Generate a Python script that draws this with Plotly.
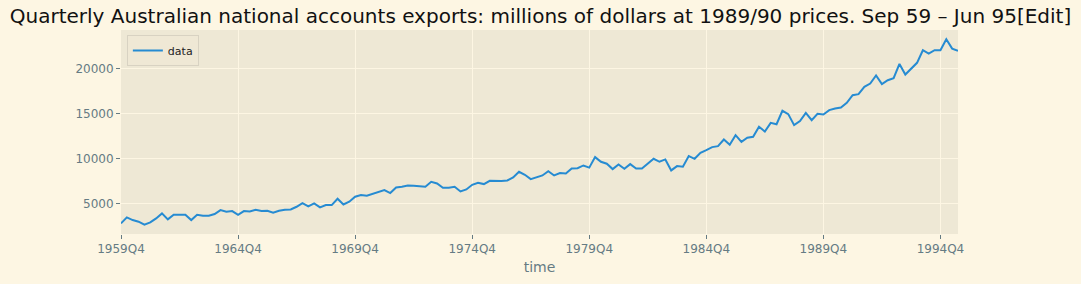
import plotly.graph_objects as go

# Quarterly exports (millions of dollars at 1989/90 prices), Sep 59 - Jun 95
values = [
    2780, 3446, 3150, 2965, 2632, 2890, 3335, 3890, 3224, 3742,
    3742, 3742, 3150, 3742, 3631, 3631, 3816, 4260, 4075, 4150,
    3742, 4150, 4110, 4300, 4150, 4190, 3964, 4190, 4300, 4330,
    4630, 5040, 4670, 5000, 4560, 4815, 4815, 5520, 4880, 5185,
    5740, 5925, 5850, 6070, 6295, 6480, 6150, 6776, 6850, 7000,
    6960, 6924, 6850, 7405, 7220, 6740, 6740, 6850, 6330, 6550,
    7070, 7290, 7150, 7515, 7480, 7480, 7550, 7890, 8515, 8180,
    7700, 7890, 8110, 8590, 8110, 8370, 8330, 8885, 8920, 9220,
    8980, 10150, 9630, 9410, 8815, 9335, 8850, 9370, 8890, 8890,
    9445, 9960, 9630, 9890, 8670, 9150, 9075, 10260, 9960, 10630,
    10925, 11260, 11370, 12110, 11520, 12590, 11850, 12300, 12400, 13515,
    13000, 13960, 13800, 15300, 14925, 13700, 14150, 15075, 14260, 14963,
    14890, 15370, 15555, 15666, 16180, 17035, 17150, 17960, 18330, 19220,
    18256, 18700, 18920, 20510, 19330, 20000, 20630, 22030, 21660, 22030,
    22030, 23250, 22215, 21960,
]
x_index = list(range(len(values)))

tick_positions = [0, 20, 40, 60, 80, 100, 120, 140]
tick_labels = ["1959Q4", "1964Q4", "1969Q4", "1974Q4", "1979Q4", "1984Q4", "1989Q4", "1994Q4"]
y_ticks = [5000, 10000, 15000, 20000]

title_text = "Quarterly Australian national accounts exports: millions of dollars at 1989/90 prices. Sep 59 \u2013 Jun 95[Edit]"

fig = go.Figure()
fig.add_trace(go.Scatter(
    x=x_index, y=values, mode="lines", name="data",
    line=dict(color="#268BD2", width=2),
))

grey = "#657b83"
fig.update_layout(
    width=1081, height=284,
    margin=dict(l=121, r=123, t=30, b=50),
    paper_bgcolor="#FDF6E3",
    plot_bgcolor="#EEE8D5",
    font=dict(family="DejaVu Sans", color=grey, size=12),
    title=dict(text=title_text, x=0.5, xanchor="center", y=0.945, yanchor="middle",
               yref="container",
               font=dict(family="DejaVu Sans", size=20, color="#111111")),
    showlegend=True,
    legend=dict(x=0.007, y=0.975, xanchor="left", yanchor="top",
                bgcolor="rgba(238,232,213,0.85)", bordercolor="#d8d2c2", borderwidth=1,
                font=dict(family="DejaVu Sans", size=11, color="#222222"),
                itemwidth=30, tracegroupgap=0),
    xaxis=dict(
        range=[0, len(values) - 1],
        tickmode="array", tickvals=tick_positions, ticktext=tick_labels,
        showgrid=True, gridcolor="#FDF6E3", gridwidth=1,
        zeroline=False, showline=False,
        ticks="outside", ticklen=4, tickcolor=grey,
        tickfont=dict(size=12, color=grey),
        title=dict(text="time", font=dict(size=14, color=grey), standoff=6),
    ),
    yaxis=dict(
        range=[1600, 24280],
        tickmode="array", tickvals=y_ticks, tickformat="d",
        showgrid=True, gridcolor="#FDF6E3", gridwidth=1,
        zeroline=False, showline=False,
        ticks="outside", ticklen=4, tickcolor=grey,
        tickfont=dict(size=12, color=grey),
    ),
)

fig.write_html("out.html")
